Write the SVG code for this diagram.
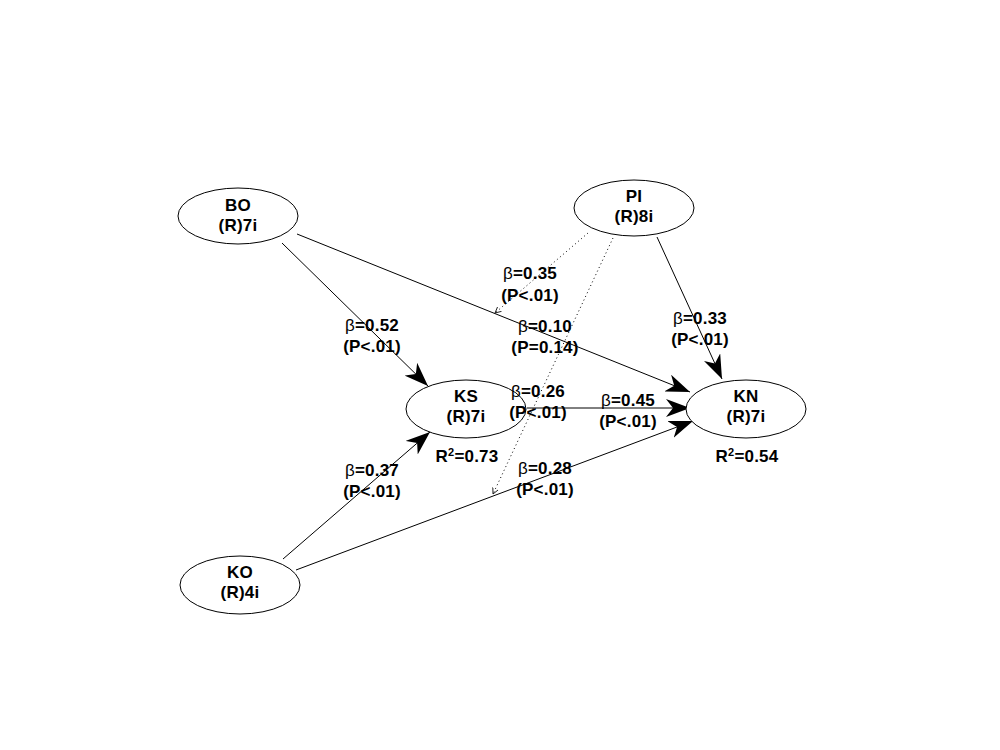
<svg xmlns="http://www.w3.org/2000/svg" width="1000" height="750" viewBox="0 0 1000 750">
<style>
.n{fill:#fff;stroke:#000;stroke-width:1}
.t{font-family:"Liberation Sans",Arial,sans-serif;font-weight:bold;font-size:17px;fill:#000;text-anchor:middle;letter-spacing:0.2px}
.b{font-weight:normal}
.e{stroke:#000;stroke-width:1;fill:none}
.d{stroke:#000;stroke-width:1;fill:none;stroke-dasharray:1 3}
</style>
<defs>
<marker id="ah" markerUnits="userSpaceOnUse" markerWidth="26" markerHeight="18" refX="24" refY="9" orient="auto">
<path d="M0,0 L24,9 L0,18 L7,9 z" fill="#000"/>
</marker>
<marker id="sa" markerUnits="userSpaceOnUse" markerWidth="8" markerHeight="8" refX="6" refY="4" orient="auto">
<path d="M0,1 L6,4 L0,7" fill="none" stroke="#000" stroke-width="0.8"/>
</marker>
</defs>
<rect width="1000" height="750" fill="#fff"/>
<g id="connectors">
<line class="e" x1="282" y1="243" x2="428" y2="386" marker-end="url(#ah)"/>
<line class="e" x1="297" y1="234" x2="690" y2="392" marker-end="url(#ah)"/>
<line class="e" x1="657" y1="237" x2="722" y2="379" marker-end="url(#ah)"/>
<line class="e" x1="527" y1="408" x2="690" y2="408" marker-end="url(#ah)"/>
<line class="e" x1="296" y1="570" x2="693" y2="421" marker-end="url(#ah)"/>
<line class="e" x1="283" y1="559" x2="430" y2="432" marker-end="url(#ah)"/>
<line class="d" x1="588" y1="233" x2="495" y2="313" marker-end="url(#sa)"/>
<line class="d" x1="613" y1="238" x2="493" y2="494" marker-end="url(#sa)"/>
</g>
<g id="BO">
<ellipse class="n" cx="238" cy="216" rx="60" ry="28"/>
<text class="t" x="238" y="211">BO</text>
<text class="t" x="238" y="231">(R)7i</text>
</g>
<g id="PI">
<ellipse class="n" cx="634" cy="208" rx="60" ry="28"/>
<text class="t" x="634" y="202">PI</text>
<text class="t" x="634" y="222">(R)8i</text>
</g>
<g id="KS">
<ellipse class="n" cx="466" cy="409" rx="60" ry="29"/>
<text class="t" x="466" y="402">KS</text>
<text class="t" x="466" y="422">(R)7i</text>
</g>
<g id="KN">
<ellipse class="n" cx="746" cy="409" rx="60" ry="29"/>
<text class="t" x="746" y="402">KN</text>
<text class="t" x="746" y="422">(R)7i</text>
</g>
<g id="KO">
<ellipse class="n" cx="240" cy="585" rx="60" ry="29"/>
<text class="t" x="240" y="578">KO</text>
<text class="t" x="240" y="598">(R)4i</text>
</g>
<g id="labels">
<text class="t" x="372" y="331"><tspan class="b">β</tspan>=0.52</text>
<text class="t" x="372" y="352">(P&lt;.01)</text>
<text class="t" x="530" y="279"><tspan class="b">β</tspan>=0.35</text>
<text class="t" x="530" y="301">(P&lt;.01)</text>
<text class="t" x="545" y="332"><tspan class="b">β</tspan>=0.10</text>
<text class="t" x="545" y="353">(P=0.14)</text>
<text class="t" x="700" y="324"><tspan class="b">β</tspan>=0.33</text>
<text class="t" x="700" y="345">(P&lt;.01)</text>
<text class="t" x="538" y="397"><tspan class="b">β</tspan>=0.26</text>
<text class="t" x="538" y="418">(P&lt;.01)</text>
<text class="t" x="628" y="406"><tspan class="b">β</tspan>=0.45</text>
<text class="t" x="628" y="427">(P&lt;.01)</text>
<text class="t" x="467" y="462">R<tspan dy="-6" font-size="11">2</tspan><tspan dy="6">=0.73</tspan></text>
<text class="t" x="747" y="462">R<tspan dy="-6" font-size="11">2</tspan><tspan dy="6">=0.54</tspan></text>
<text class="t" x="372" y="476"><tspan class="b">β</tspan>=0.37</text>
<text class="t" x="372" y="497">(P&lt;.01)</text>
<text class="t" x="545" y="474"><tspan class="b">β</tspan>=0.28</text>
<text class="t" x="545" y="495">(P&lt;.01)</text>
</g>
</svg>
